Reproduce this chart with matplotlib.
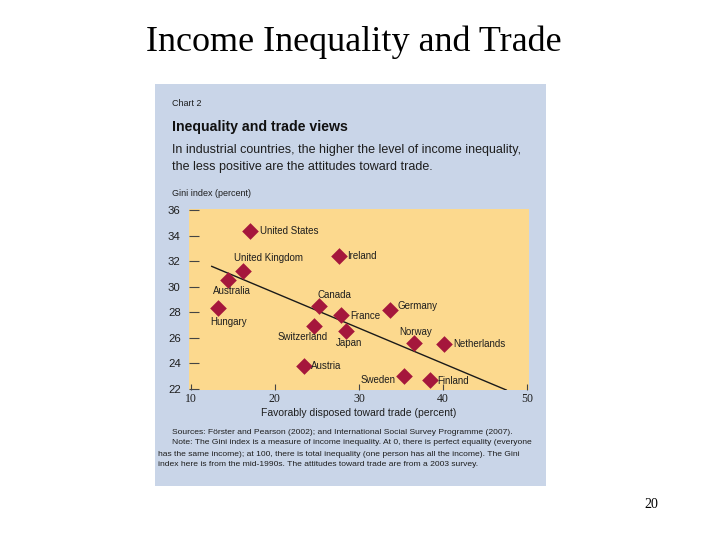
import matplotlib
matplotlib.use("Agg")
import matplotlib.pyplot as plt
from matplotlib.patches import Rectangle

# data
countries = ["United States", "Ireland", "United Kingdom", "Australia", "Hungary",
             "Canada", "France", "Germany", "Switzerland", "Japan", "Norway",
             "Netherlands", "Austria", "Sweden", "Finland"]
trade_fav = [17.1, 27.6, 16.2, 14.4, 13.2, 25.2, 27.9, 33.7, 24.7, 28.5, 36.5,
             40.1, 23.5, 35.4, 38.4]
gini = [34.4, 32.4, 31.2, 30.5, 28.3, 28.5, 27.8, 28.2, 26.9, 26.5, 25.6,
        25.5, 23.8, 23.0, 22.7]
trend_x = [12.5, 47.5]
trend_y = [31.6, 21.9]
xticks = [10, 20, 30, 40, 50]
yticks = [22, 24, 26, 28, 30, 32, 34, 36]

# label placement: (dx px, dy px, ha)
label_pos = {
    "United States": (10, 0, "left"),
    "Ireland": (8, 0, "left"),
    "United Kingdom": (26, 13, "center"),
    "Australia": (4, -11, "center"),
    "Hungary": (11, -14, "center"),
    "Canada": (16, 11, "center"),
    "France": (9, -1, "left"),
    "Germany": (7, 4, "left"),
    "Switzerland": (-12, -11, "center"),
    "Japan": (3, -12, "center"),
    "Norway": (2, 11, "center"),
    "Netherlands": (9, 0, "left"),
    "Austria": (7, 0, "left"),
    "Sweden": (-9, -4, "right"),
    "Finland": (8, -1, "left"),
}

sans = ["Liberation Sans", "DejaVu Sans"]
serif = ["Liberation Serif", "DejaVu Serif"]
blue = "#c9d5e8"
orange = "#fcd98e"
red = "#a5173c"
txt = "#1e1e1e"

fig = plt.figure(figsize=(7.2, 5.4), dpi=100)
fig.patch.set_facecolor("white")

fig.text(0.492, 0.922, "Income Inequality and Trade", family=serif, fontsize=26,
         ha="center", va="center", color="black")
fig.text(0.905, 0.066, "20", family=serif, fontsize=10, ha="center", va="center")

# blue panel
fig.patches.append(Rectangle((155 / 720, 1 - 486 / 540), 391 / 720, 402 / 540,
                             transform=fig.transFigure, facecolor=blue,
                             edgecolor="none", zorder=0))

fig.text(172 / 720, 1 - 103 / 540, "Chart 2", family=sans, fontsize=6.5,
         color=txt, va="center")
fig.text(172 / 720, 1 - 127 / 540, "Inequality and trade views", family=sans,
         fontsize=10.2, weight="bold", color="#111111", va="center")
fig.text(172 / 720, 1 - 150 / 540,
         "In industrial countries, the higher the level of income inequality,",
         family=sans, fontsize=9.0, color=txt, va="center")
fig.text(172 / 720, 1 - 167 / 540, "the less positive are the attitudes toward trade.",
         family=sans, fontsize=9.0, color=txt, va="center")
fig.text(172 / 720, 1 - 194 / 540, "Gini index (percent)", family=sans,
         fontsize=6.5, color=txt, va="center")

ax = fig.add_axes([189 / 720, 1 - 390 / 540, 340 / 720, 181 / 540], zorder=2)
ax.set_facecolor(orange)
for s in ax.spines.values():
    s.set_visible(False)
ax.set_xlim(9.8, 50.2)
ax.set_ylim(21.9, 36.1)

ax.plot(trend_x, trend_y, color="#1a1a1a", lw=1.0, zorder=2)
ax.scatter(trade_fav, gini, marker="D", s=72, color=red, zorder=3, linewidths=0)

for name, x, y in zip(countries, trade_fav, gini):
    dx, dy, ha = label_pos[name]
    ax.annotate(name, (x, y), xytext=(dx, dy), textcoords="offset pixels",
                ha=ha, va="center", family=sans, fontsize=7, color=txt, zorder=4)

ax.set_xticks(xticks)
ax.set_yticks(yticks)
ax.set_xticklabels([str(v) for v in xticks], family=serif, fontsize=8.5, color=txt)
ax.set_yticklabels([str(v) for v in yticks], family=sans, fontsize=8.2, color=txt)
ax.tick_params(axis="y", direction="in", length=7, width=0.8, color="#444444", pad=6)
ax.tick_params(axis="x", direction="in", length=4, width=0.8, color="#444444", pad=2)
ax.set_xlabel("Favorably disposed toward trade (percent)", family=sans,
              fontsize=7.5, color=txt, labelpad=2)

notes = [
    (172, 432, "Sources: Förster and Pearson (2002); and International Social Survey Programme (2007)."),
    (172, 443, "Note: The Gini index is a measure of income inequality. At 0, there is perfect equality (everyone"),
    (158, 454, "has the same income); at 100, there is total inequality (one person has all the income). The Gini"),
    (158, 465, "index here is from the mid-1990s. The attitudes toward trade are from a 2003 survey."),
]
for x, y, line in notes:
    fig.text(x / 720, 1 - y / 540, line, family=sans, fontsize=6.1, color=txt,
             va="center")

fig.savefig("out.png", dpi=100)
